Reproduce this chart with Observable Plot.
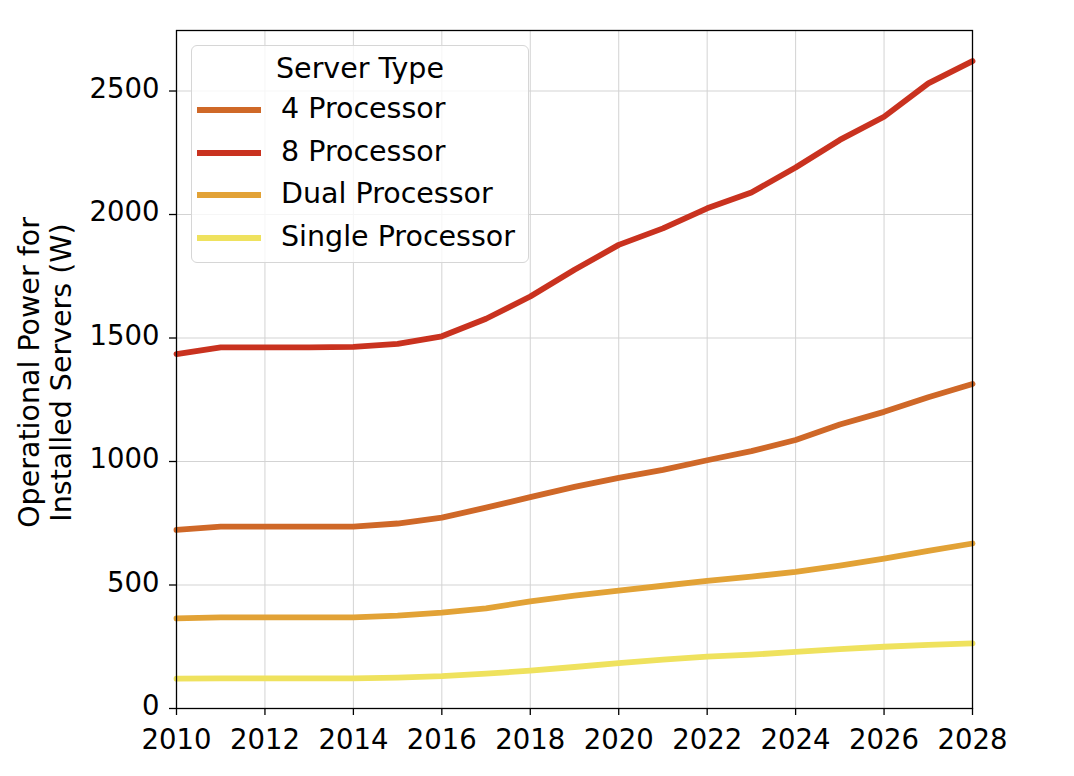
<!DOCTYPE html>
<html>
<head>
<meta charset="utf-8">
<script src="https://cdn.jsdelivr.net/npm/d3@7"></script>
<script src="https://cdn.jsdelivr.net/npm/@observablehq/plot@0.6"></script>
<style>
  body { margin: 0; background: #fff; font-family: "DejaVu Sans", sans-serif; }
  #wrap { position: relative; width: 1074px; height: 776px; }
  #legend { position: absolute; left: 191px; top: 45px; width: 338px; height: 218px;
    border: 1.5px solid #d6d6d6; border-radius: 6px; background: rgba(255,255,255,0.8);
    box-sizing: border-box; color: #000; }
  #legend .title { position: absolute; left: 0; width: 100%; top: 6px; text-align: center; font-size: 28.5px; }
  #legend .row { position: absolute; left: 0; height: 40px; width: 100%; }
  #legend .sw { position: absolute; left: 5px; width: 64px; height: 6px; top: 16px; }
  #legend .lab { position: absolute; left: 89px; top: 1px; font-size: 28.5px; white-space: nowrap; }
</style>
</head>
<body>
<div id="wrap"></div>
<script>
const years = [2010, 2011, 2012, 2013, 2014, 2015, 2016, 2017, 2018, 2019, 2020, 2021, 2022, 2023, 2024, 2025, 2026, 2027, 2028];
const types = ["4 Processor", "8 Processor", "Dual Processor", "Single Processor"];
const colors = ["#cf6828", "#c9321f", "#e2a236", "#efe25e"];
const fourProc   = [723, 736, 736, 736, 736, 749, 773, 813, 856, 897, 934, 966, 1005, 1042, 1087, 1150, 1201, 1260, 1314];
const eightProc  = [1435, 1462, 1462, 1462, 1464, 1476, 1507, 1578, 1668, 1776, 1877, 1944, 2025, 2089, 2190, 2302, 2396, 2531, 2621];
const dualProc   = [365, 369, 369, 369, 369, 376, 388, 405, 434, 457, 477, 497, 517, 534, 553, 578, 607, 638, 668];
const singleProc = [121, 122, 122, 122, 122, 125, 131, 141, 153, 168, 184, 198, 210, 218, 229, 240, 250, 258, 264];
const xTicks = [2010, 2012, 2014, 2016, 2018, 2020, 2022, 2024, 2026, 2028];
const yTicks = [0, 500, 1000, 1500, 2000, 2500];
const yLabel = "Operational Power for\nInstalled Servers (W)";
const legendTitle = "Server Type";

const seriesValues = [fourProc, eightProc, dualProc, singleProc];
const rows = [];
types.forEach((t, k) => seriesValues[k].forEach((v, i) => rows.push({year: years[i], type: t, power: v})));

const gridStyle = {stroke: "#d3d3d3", strokeOpacity: 1, strokeWidth: 1};
const chart = Plot.plot({
  width: 1074, height: 776,
  marginLeft: 176, marginRight: 102, marginTop: 30, marginBottom: 68,
  style: {fontFamily: "DejaVu Sans", fontSize: "27.5px", color: "#000", background: "#fff"},
  x: {domain: [2010, 2028], label: null},
  y: {domain: [0, 2745], label: null},
  color: {domain: types, range: colors},
  marks: [
    Plot.gridX(xTicks, gridStyle),
    Plot.gridY(yTicks, gridStyle),
    Plot.line(rows, {x: "year", y: "power", z: "type", stroke: "type", strokeWidth: 5.8, strokeLinejoin: "round"}),
    Plot.frame({stroke: "#000", strokeWidth: 1.3}),
    Plot.axisX(xTicks, {tickFormat: d => String(d), tickSize: 7, tickPadding: 14, strokeWidth: 1.3, fontSize: 27.5, label: null}),
    Plot.axisY(yTicks, {tickFormat: () => "", tickSize: 7, strokeWidth: 1.3, label: null}),
    Plot.axisY(yTicks, {tickFormat: d => String(d), tickSize: 0, tickPadding: 17, fontSize: 27.5, dy: -2, label: null}),
    Plot.text([yLabel], {frameAnchor: "left", rotate: -90, dx: -132, dy: 3, fontSize: 28.5, lineHeight: 1.12, textAnchor: "middle", fill: "#000"})
  ]
});

const wrap = document.getElementById("wrap");
wrap.appendChild(chart);

const legend = document.createElement("div");
legend.id = "legend";
const title = document.createElement("div");
title.className = "title";
title.textContent = legendTitle;
legend.appendChild(title);
types.forEach((t, i) => {
  const row = document.createElement("div");
  row.className = "row";
  row.style.top = (45 + i * 42.5) + "px";
  const sw = document.createElement("div");
  sw.className = "sw";
  sw.style.background = colors[i];
  const lab = document.createElement("div");
  lab.className = "lab";
  lab.textContent = t;
  row.appendChild(sw);
  row.appendChild(lab);
  legend.appendChild(row);
});
wrap.appendChild(legend);
</script>
</body>
</html>
